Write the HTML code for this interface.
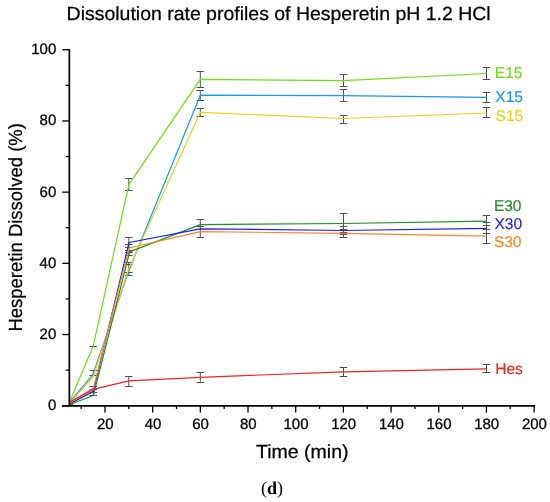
<!DOCTYPE html><html><head><meta charset="utf-8"><style>html,body{margin:0;padding:0;background:#fff;}svg{display:block;}text{text-rendering:geometricPrecision;}</style></head><body>
<svg width="550" height="502" viewBox="0 0 550 502" font-family="Liberation Sans, Arial, sans-serif">
<rect width="550" height="502" fill="#fff"/>
<text x="66.6" y="19.7" font-size="19" textLength="424" lengthAdjust="spacingAndGlyphs" fill="#000" stroke="#000" stroke-width="0.25">Dissolution rate profiles of Hesperetin pH 1.2 HCl</text>
<defs><clipPath id="pa"><rect x="70.1" y="40" width="470" height="365"/></clipPath></defs>
<g clip-path="url(#pa)">
<g stroke="#505050" stroke-width="1" fill="none">
<line x1="69.2" y1="400.5" x2="69.2" y2="404.5"/>
<line x1="65.45" y1="400.5" x2="72.95" y2="400.5"/>
<line x1="65.45" y1="404.5" x2="72.95" y2="404.5"/>
<line x1="89.55" y1="346.5" x2="97.05" y2="346.5"/>
<line x1="93.3" y1="370.5" x2="93.3" y2="375.5"/>
<line x1="89.55" y1="370.5" x2="97.05" y2="370.5"/>
<line x1="89.55" y1="375.5" x2="97.05" y2="375.5"/>
<line x1="93.3" y1="386.5" x2="93.3" y2="395.5"/>
<line x1="89.55" y1="386.5" x2="97.05" y2="386.5"/>
<line x1="89.55" y1="389.5" x2="97.05" y2="389.5"/>
<line x1="89.55" y1="392.5" x2="97.05" y2="392.5"/>
<line x1="89.55" y1="395.5" x2="97.05" y2="395.5"/>
<line x1="128.8" y1="178.5" x2="128.8" y2="190.5"/>
<line x1="125.05" y1="178.5" x2="132.55" y2="178.5"/>
<line x1="125.05" y1="190.5" x2="132.55" y2="190.5"/>
<line x1="128.8" y1="262.5" x2="128.8" y2="275.5"/>
<line x1="125.05" y1="262.5" x2="132.55" y2="262.5"/>
<line x1="125.05" y1="264.5" x2="132.55" y2="264.5"/>
<line x1="125.05" y1="272.5" x2="132.55" y2="272.5"/>
<line x1="125.05" y1="275.5" x2="132.55" y2="275.5"/>
<line x1="128.8" y1="237.5" x2="128.8" y2="255.5"/>
<line x1="125.05" y1="237.5" x2="132.55" y2="237.5"/>
<line x1="125.05" y1="244.5" x2="132.55" y2="244.5"/>
<line x1="125.05" y1="247.5" x2="132.55" y2="247.5"/>
<line x1="125.05" y1="250.5" x2="132.55" y2="250.5"/>
<line x1="125.05" y1="252.5" x2="132.55" y2="252.5"/>
<line x1="125.05" y1="255.5" x2="132.55" y2="255.5"/>
<line x1="128.8" y1="376.5" x2="128.8" y2="386.5"/>
<line x1="125.05" y1="376.5" x2="132.55" y2="376.5"/>
<line x1="125.05" y1="386.5" x2="132.55" y2="386.5"/>
<line x1="200.3" y1="71.5" x2="200.3" y2="87.5"/>
<line x1="196.55" y1="71.5" x2="204.05" y2="71.5"/>
<line x1="196.55" y1="87.5" x2="204.05" y2="87.5"/>
<line x1="200.3" y1="90.5" x2="200.3" y2="100.5"/>
<line x1="196.55" y1="90.5" x2="204.05" y2="90.5"/>
<line x1="196.55" y1="100.5" x2="204.05" y2="100.5"/>
<line x1="200.3" y1="108.5" x2="200.3" y2="116.5"/>
<line x1="196.55" y1="108.5" x2="204.05" y2="108.5"/>
<line x1="196.55" y1="116.5" x2="204.05" y2="116.5"/>
<line x1="200.3" y1="219.5" x2="200.3" y2="237.5"/>
<line x1="196.55" y1="219.5" x2="204.05" y2="219.5"/>
<line x1="196.55" y1="226.5" x2="204.05" y2="226.5"/>
<line x1="196.55" y1="237.5" x2="204.05" y2="237.5"/>
<line x1="200.3" y1="372.5" x2="200.3" y2="382.5"/>
<line x1="196.55" y1="372.5" x2="204.05" y2="372.5"/>
<line x1="196.55" y1="382.5" x2="204.05" y2="382.5"/>
<line x1="343.5" y1="74.5" x2="343.5" y2="86.5"/>
<line x1="339.75" y1="74.5" x2="347.25" y2="74.5"/>
<line x1="339.75" y1="86.5" x2="347.25" y2="86.5"/>
<line x1="343.5" y1="89.5" x2="343.5" y2="101.5"/>
<line x1="339.75" y1="89.5" x2="347.25" y2="89.5"/>
<line x1="339.75" y1="101.5" x2="347.25" y2="101.5"/>
<line x1="343.5" y1="115.5" x2="343.5" y2="123.5"/>
<line x1="339.75" y1="115.5" x2="347.25" y2="115.5"/>
<line x1="339.75" y1="123.5" x2="347.25" y2="123.5"/>
<line x1="343.5" y1="213.5" x2="343.5" y2="237.5"/>
<line x1="339.75" y1="213.5" x2="347.25" y2="213.5"/>
<line x1="339.75" y1="226.5" x2="347.25" y2="226.5"/>
<line x1="339.75" y1="229.5" x2="347.25" y2="229.5"/>
<line x1="339.75" y1="232.5" x2="347.25" y2="232.5"/>
<line x1="339.75" y1="234.5" x2="347.25" y2="234.5"/>
<line x1="339.75" y1="237.5" x2="347.25" y2="237.5"/>
<line x1="343.5" y1="367.5" x2="343.5" y2="376.5"/>
<line x1="339.75" y1="367.5" x2="347.25" y2="367.5"/>
<line x1="339.75" y1="376.5" x2="347.25" y2="376.5"/>
<line x1="486.5" y1="67.5" x2="486.5" y2="79.5"/>
<line x1="482.75" y1="67.5" x2="490.25" y2="67.5"/>
<line x1="482.75" y1="79.5" x2="490.25" y2="79.5"/>
<line x1="486.5" y1="92.5" x2="486.5" y2="102.5"/>
<line x1="482.75" y1="92.5" x2="490.25" y2="92.5"/>
<line x1="482.75" y1="102.5" x2="490.25" y2="102.5"/>
<line x1="486.5" y1="107.5" x2="486.5" y2="117.5"/>
<line x1="482.75" y1="107.5" x2="490.25" y2="107.5"/>
<line x1="482.75" y1="117.5" x2="490.25" y2="117.5"/>
<line x1="486.5" y1="215.5" x2="486.5" y2="243.5"/>
<line x1="482.75" y1="215.5" x2="490.25" y2="215.5"/>
<line x1="482.75" y1="222.5" x2="490.25" y2="222.5"/>
<line x1="482.75" y1="225.5" x2="490.25" y2="225.5"/>
<line x1="482.75" y1="229.5" x2="490.25" y2="229.5"/>
<line x1="482.75" y1="233.5" x2="490.25" y2="233.5"/>
<line x1="482.75" y1="243.5" x2="490.25" y2="243.5"/>
<line x1="486.5" y1="364.5" x2="486.5" y2="372.5"/>
<line x1="482.75" y1="364.5" x2="490.25" y2="364.5"/>
<line x1="482.75" y1="372.5" x2="490.25" y2="372.5"/>
</g>
<polyline points="69.2,402.7 92.9,374.6 128.8,270.8 200.3,95.2 343.5,95.7 486.5,97.4" fill="none" stroke="#1498F2" stroke-width="1.2" stroke-linejoin="round"/>
<polyline points="69.2,403.6 93.4,376.5 128.8,268.6 200.3,112.4 343.5,118.5 486.5,113.0" fill="none" stroke="#E8D018" stroke-width="1.2" stroke-linejoin="round"/>
<polyline points="69.2,402.6 93.2,346.2 128.8,184.6 200.3,79.4 343.5,80.6 486.5,73.5" fill="none" stroke="#70DC14" stroke-width="1.2" stroke-linejoin="round"/>
<polyline points="69.2,404.6 93.4,395.5 129.6,251.9 200.3,224.6 343.5,223.5 486.5,221.1" fill="none" stroke="#1C8E2C" stroke-width="1.2" stroke-linejoin="round"/>
<polyline points="69.2,403.9 93.3,391.4 129.1,242.5 200.3,228.8 343.5,230.5 486.5,228.3" fill="none" stroke="#1E1EF5" stroke-width="1.2" stroke-linejoin="round"/>
<polyline points="69.2,403.2 93.3,388.3 129.1,248.0 200.3,231.6 343.5,233.3 486.5,236.1" fill="none" stroke="#FF8522" stroke-width="1.2" stroke-linejoin="round"/>
<polyline points="69.2,402.3 93.2,389.4 128.8,380.9 200.3,377.3 343.5,371.8 486.5,368.8" fill="none" stroke="#F52222" stroke-width="1.2" stroke-linejoin="round"/>
</g>
<g stroke="#000" stroke-width="1.7" fill="none">
<line x1="69.35" y1="49.15" x2="69.35" y2="406.5"/>
<line x1="62" y1="405.9" x2="535" y2="405.9"/>
</g>
<g stroke="#000" stroke-width="1.3" fill="none">
<line x1="62.3" y1="405.75" x2="69.5" y2="405.75"/>
<line x1="65.8" y1="370.15" x2="69.5" y2="370.15"/>
<line x1="62.3" y1="334.55" x2="69.5" y2="334.55"/>
<line x1="65.8" y1="298.95" x2="69.5" y2="298.95"/>
<line x1="62.3" y1="263.35" x2="69.5" y2="263.35"/>
<line x1="65.8" y1="227.75" x2="69.5" y2="227.75"/>
<line x1="62.3" y1="192.15" x2="69.5" y2="192.15"/>
<line x1="65.8" y1="156.55" x2="69.5" y2="156.55"/>
<line x1="62.3" y1="120.95" x2="69.5" y2="120.95"/>
<line x1="65.8" y1="85.35" x2="69.5" y2="85.35"/>
<line x1="62.3" y1="49.75" x2="69.5" y2="49.75"/>
<line x1="81.14" y1="405.9" x2="81.14" y2="409.0"/>
<line x1="104.98" y1="405.9" x2="104.98" y2="412.6"/>
<line x1="128.82" y1="405.9" x2="128.82" y2="409.0"/>
<line x1="152.66" y1="405.9" x2="152.66" y2="412.6"/>
<line x1="176.50" y1="405.9" x2="176.50" y2="409.0"/>
<line x1="200.34" y1="405.9" x2="200.34" y2="412.6"/>
<line x1="224.18" y1="405.9" x2="224.18" y2="409.0"/>
<line x1="248.02" y1="405.9" x2="248.02" y2="412.6"/>
<line x1="271.86" y1="405.9" x2="271.86" y2="409.0"/>
<line x1="295.70" y1="405.9" x2="295.70" y2="412.6"/>
<line x1="319.54" y1="405.9" x2="319.54" y2="409.0"/>
<line x1="343.38" y1="405.9" x2="343.38" y2="412.6"/>
<line x1="367.22" y1="405.9" x2="367.22" y2="409.0"/>
<line x1="391.06" y1="405.9" x2="391.06" y2="412.6"/>
<line x1="414.90" y1="405.9" x2="414.90" y2="409.0"/>
<line x1="438.74" y1="405.9" x2="438.74" y2="412.6"/>
<line x1="462.58" y1="405.9" x2="462.58" y2="409.0"/>
<line x1="486.42" y1="405.9" x2="486.42" y2="412.6"/>
<line x1="510.26" y1="405.9" x2="510.26" y2="409.0"/>
<line x1="534.10" y1="405.9" x2="534.10" y2="412.6"/>
</g>
<g font-size="15" fill="#000" stroke="#000" stroke-width="0.3">
<text x="56.3" y="410.25" text-anchor="end">0</text>
<text x="56.3" y="339.05" text-anchor="end">20</text>
<text x="56.3" y="267.85" text-anchor="end">40</text>
<text x="56.3" y="196.65" text-anchor="end">60</text>
<text x="56.3" y="125.45" text-anchor="end">80</text>
<text x="56.3" y="54.25" text-anchor="end">100</text>
<text x="105.3" y="429.3" text-anchor="middle">20</text>
<text x="153.0" y="429.3" text-anchor="middle">40</text>
<text x="200.6" y="429.3" text-anchor="middle">60</text>
<text x="248.3" y="429.3" text-anchor="middle">80</text>
<text x="296.0" y="429.3" text-anchor="middle">100</text>
<text x="343.7" y="429.3" text-anchor="middle">120</text>
<text x="391.4" y="429.3" text-anchor="middle">140</text>
<text x="439.0" y="429.3" text-anchor="middle">160</text>
<text x="486.7" y="429.3" text-anchor="middle">180</text>
<text x="534.4" y="429.3" text-anchor="middle">200</text>
</g>
<text x="256" y="457.6" font-size="19" textLength="92.5" lengthAdjust="spacingAndGlyphs" fill="#000" stroke="#000" stroke-width="0.25">Time (min)</text>
<text transform="translate(22.2,331.6) rotate(-90)" font-size="19" textLength="208.5" lengthAdjust="spacingAndGlyphs" fill="#000" stroke="#000" stroke-width="0.25">Hesperetin Dissolved (%)</text>
<text x="261" y="493.8" font-size="18" font-family="Liberation Serif, serif" fill="#000">(<tspan font-weight="bold">d</tspan>)</text>
<g font-size="15.5">
<text x="494.8" y="77.8" fill="#70DC14" stroke="#70DC14" stroke-width="0.15">E15</text>
<text x="495.3" y="101.7" fill="#1498F2" stroke="#1498F2" stroke-width="0.15">X15</text>
<text x="495.6" y="121.3" fill="#E8D018" stroke="#E8D018" stroke-width="0.15">S15</text>
<text x="493.9" y="211.4" fill="#1C8E2C" stroke="#1C8E2C" stroke-width="0.15">E30</text>
<text x="494.5" y="228.8" fill="#1E1EF5" stroke="#1E1EF5" stroke-width="0.15">X30</text>
<text x="493.9" y="247.4" fill="#FF8522" stroke="#FF8522" stroke-width="0.15">S30</text>
<text x="495.2" y="373.5" fill="#F52222" stroke="#F52222" stroke-width="0.15">Hes</text>
</g>
</svg></body></html>
